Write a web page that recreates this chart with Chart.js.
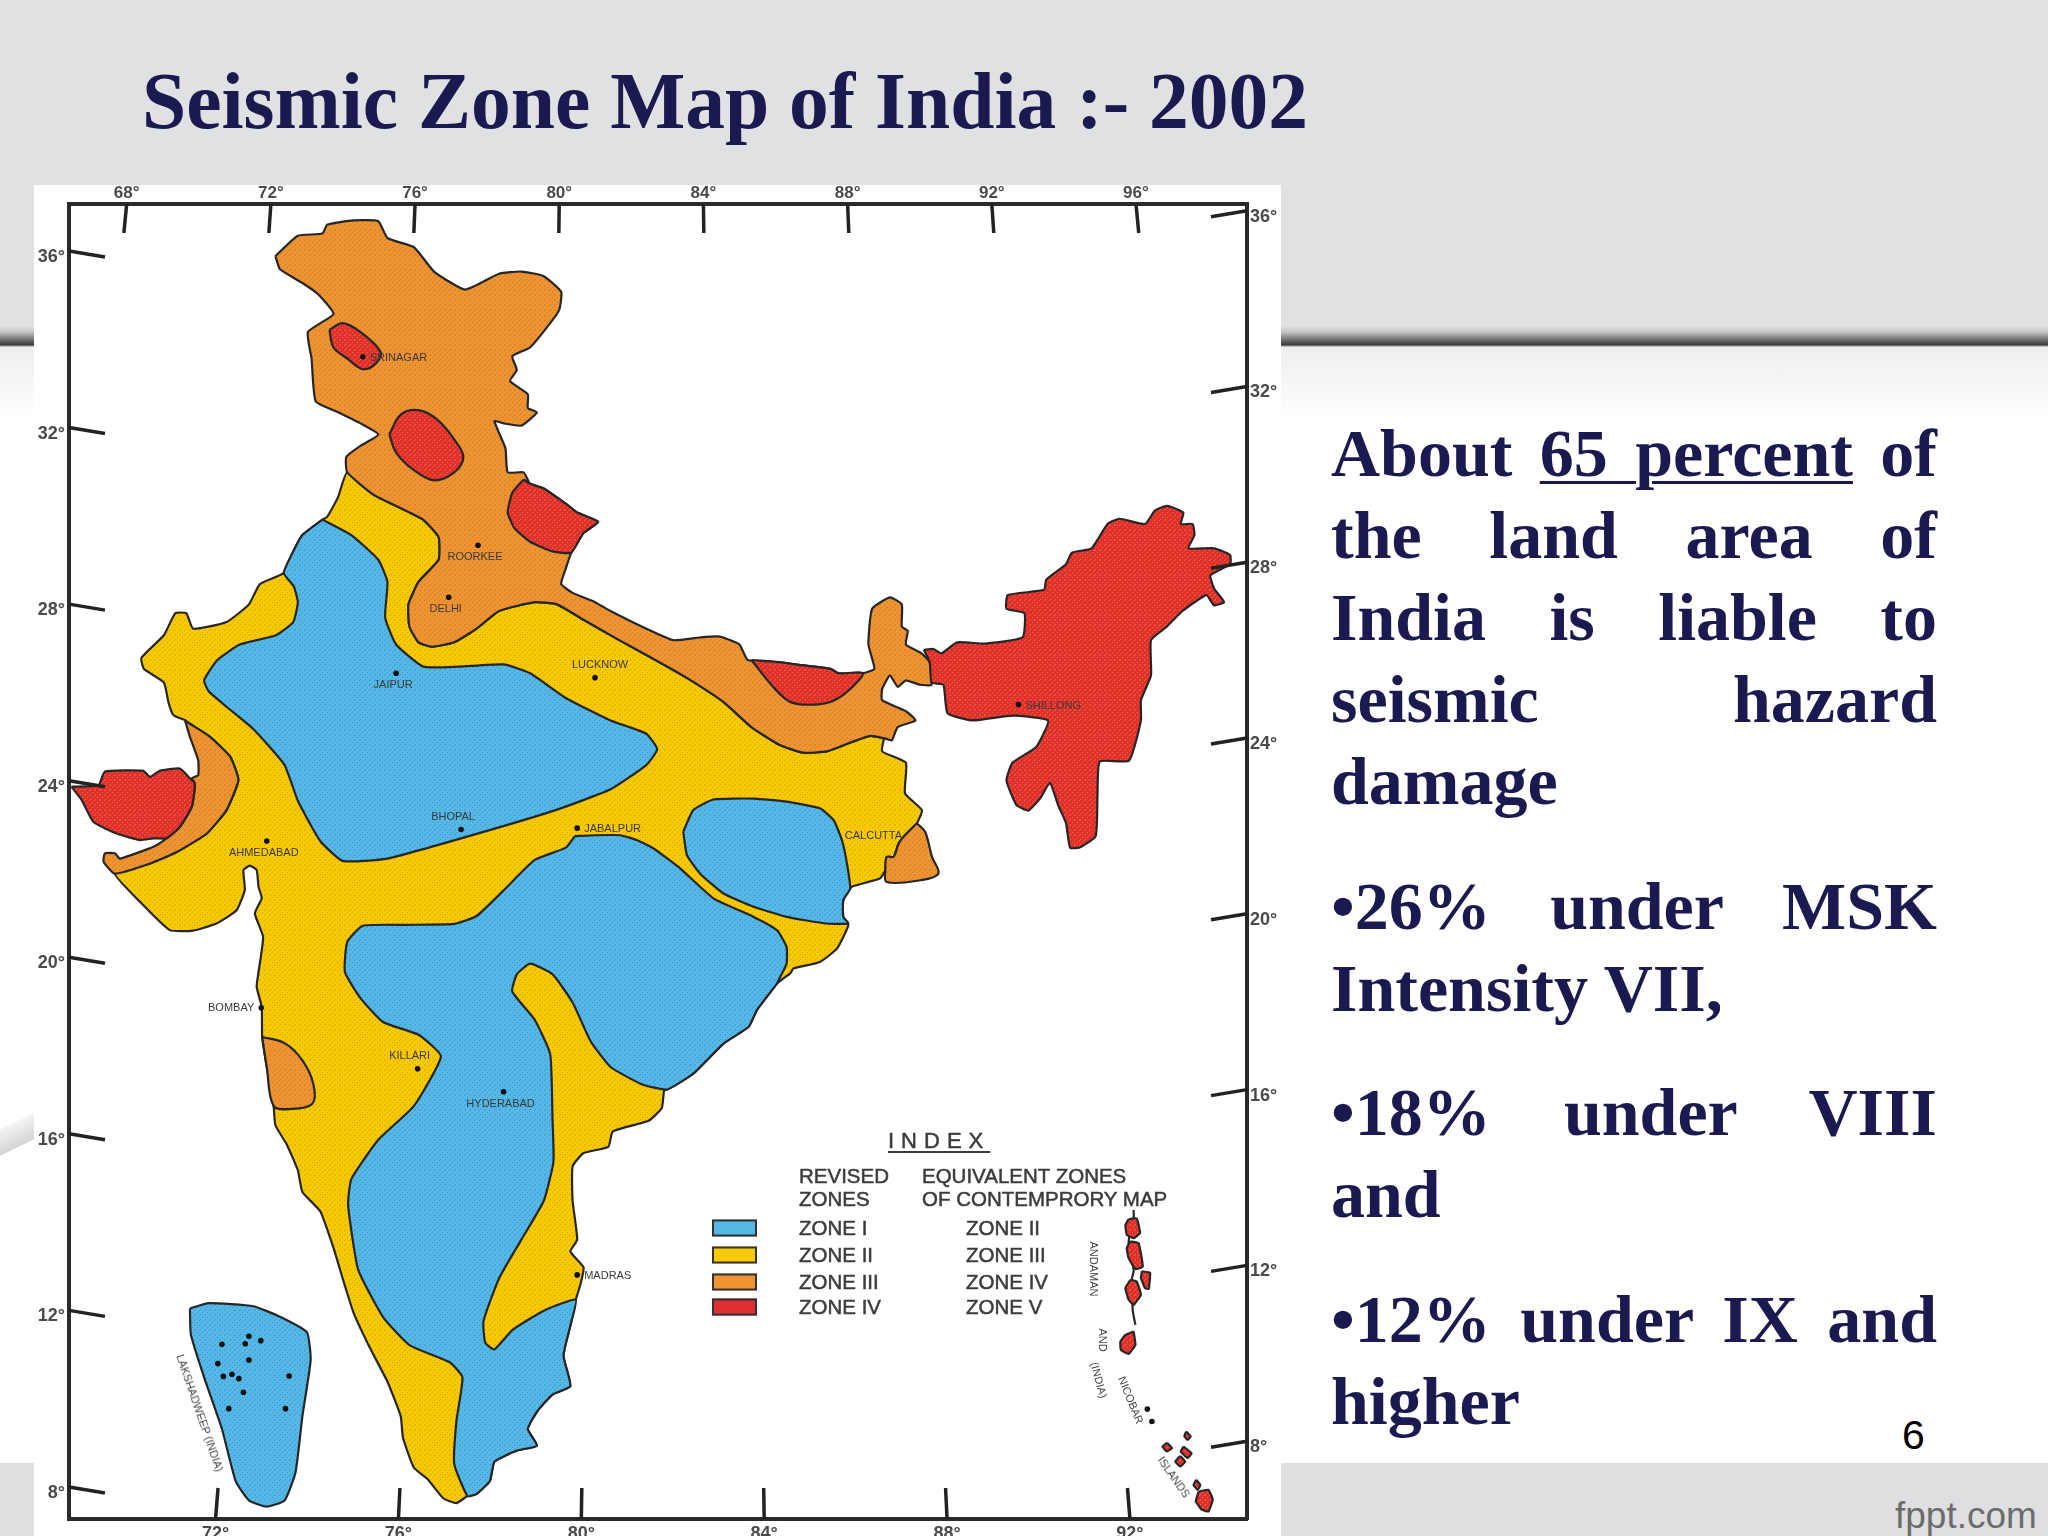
<!DOCTYPE html>
<html>
<head>
<meta charset="utf-8">
<title>Seismic Zone Map of India</title>
<script src="https://cdn.jsdelivr.net/npm/chart.js@4/dist/chart.umd.min.js"></script>
<style>
    html, body { margin: 0; padding: 0; }
    body {
        width: 2048px; height: 1536px; position: relative; overflow: hidden;
        font-family: "Liberation Sans", sans-serif;
        background: linear-gradient(to bottom, #e0e1e2 0, #e0e1e2 326px, #c4c4c4 332px, #4c4c4c 343px, #3c3c3c 345px, #eeeeee 347px, #ffffff 420px, #ffffff 100%);
    }
    .abs { position: absolute; }
    #footerBand { left: 0; top: 1463px; width: 2048px; height: 73px; background: #dfdfe2; }
    #streak { left: -4px; top: 1122px; width: 40px; height: 26px; background: linear-gradient(to bottom, #f4f4f4, #d4d4d4); transform: skewY(-26deg); }
    #panel { left: 34px; top: 185px; width: 1247px; height: 1351px; background: #fff; }
    #mapChart { position: absolute; left: 0; top: 0; filter: blur(0.6px); }
    #title {
        left: 142px; top: 56px; white-space: nowrap; color: #1a1a50;
        font: bold 79.5px "Liberation Serif", serif;
    }
    .para { position: absolute; left: 1331px; width: 606px; color: #1a1a50; font: bold 68px/82px "Liberation Serif", serif; }
    .ln { text-align: justify; text-align-last: justify; }
    .ln.last { text-align-last: left; }
    .u { text-decoration: underline; text-decoration-thickness: 3px; text-underline-offset: 5px; }
    #pageNo { left: 1902px; top: 1412px; font-size: 41px; color: #000; }
    #brand { left: 1895px; top: 1495px; font-size: 37px; color: #6c6c6c; }
    .idx { position: absolute; white-space: nowrap; color: #3c3c3c; font-size: 20.5px; line-height: 22px; transform: translateY(-50%); -webkit-text-stroke: 0.5px #3c3c3c; }
    #indexHead { font-size: 22px; letter-spacing: 7px; text-decoration: underline; text-underline-offset: 3px; }
    .swatch { position: absolute; left: 712px; width: 41px; height: 13px; border: 2px solid #333; transform: translateY(-50%); }
    .rot { position: absolute; white-space: nowrap; color: #444; font-size: 11px; transform: translate(-50%, -50%) rotate(var(--a)); }
</style>
</head>
<body>
<div class="abs" id="footerBand"></div>
<div class="abs" id="streak"></div>
<div class="abs" id="title">Seismic Zone Map of India :- 2002</div>

<div class="abs" id="panel"><canvas id="mapChart" width="1247" height="1351"></canvas></div>
<div id="indexBox"></div>

<div class="para" style="top:412px">
    <div class="ln">About <span class="u">65 percent</span> of</div>
    <div class="ln">the land area of</div>
    <div class="ln">India is liable to</div>
    <div class="ln">seismic hazard</div>
    <div class="ln last">damage</div>
</div>
<div class="para" style="top:865px">
    <div class="ln">•26% under MSK</div>
    <div class="ln last">Intensity VII,</div>
</div>
<div class="para" style="top:1071px">
    <div class="ln">•18% under VIII</div>
    <div class="ln last">and</div>
</div>
<div class="para" style="top:1278px">
    <div class="ln">•12% under IX and</div>
    <div class="ln last">higher</div>
</div>
<div class="abs" id="pageNo">6</div>
<div class="abs" id="brand">fppt.com</div>

<script>
// ============================================================
// DATA - all outlines are [lon, lat]
// ============================================================
const topLonTicks = [68, 72, 76, 80, 84, 88, 92, 96];
const bottomLonTicks = [72, 76, 80, 84, 88, 92];
const latTicks = [36, 32, 28, 24, 20, 16, 12, 8];

// Shared borders
const kashmirNorth = [[73.31,36.02],[73.80,36.48],[74.34,36.53],[74.44,36.73],[75.02,36.83],[75.56,36.81],[75.76,36.43],[76.34,36.22],[76.78,35.67],[77.46,35.26],[78.20,35.62],[78.69,35.67],[79.17,35.57],[79.56,35.21],[79.52,34.81],[79.32,34.50],[78.88,33.95],[78.49,33.75],[78.59,33.44],[78.44,33.19],[78.83,32.89],[78.83,32.58],[79.03,32.48],[78.69,32.18],[78.30,32.23],[78.10,32.28],[78.34,31.67],[78.39,31.12],[78.74,31.12],[78.88,30.86],[79.17,30.76],[79.66,30.41],[79.91,30.21],[80.37,30.00],[80.05,29.75],[79.78,29.30],[79.66,28.94],[79.56,28.59],[79.81,28.39],[80.30,28.18],[80.64,27.98],[81.32,27.63],[82.01,27.32],[82.59,27.38],[83.03,27.40],[83.46,27.22],[83.64,26.87],[84.33,26.82],[84.68,26.77],[85.45,26.67],[85.63,26.57],[86.15,26.57],[86.41,26.67],[86.28,27.22],[86.36,28.03],[86.75,28.29],[87.01,28.13],[87.01,27.63],[87.14,27.53],[87.10,27.22],[87.44,27.02],[87.62,26.82],[87.66,26.31],[87.40,26.31],[87.10,26.41],[86.92,26.26],[86.75,26.52],[86.58,26.21],[86.58,25.96],[87.10,25.71],[87.31,25.50],[86.92,25.35],[86.79,25.05]];
const zone3SouthEdge = [[86.62,25.10],[86.32,25.15],[85.89,25.00],[85.37,24.80],[84.85,24.77],[84.33,24.95],[83.72,25.35],[83.12,25.91],[82.30,26.47],[81.62,26.87],[80.83,27.32],[80.05,27.78],[79.47,28.13],[78.98,28.18],[78.20,27.98],[77.71,27.58],[77.22,27.27],[76.73,27.17],[76.44,27.27],[76.24,27.63],[76.22,28.13],[76.44,28.64],[76.88,29.14],[76.88,29.65],[76.54,30.05],[76.05,30.31],[75.46,30.61],[74.88,31.12]];
const kashmirWest = [[74.86,31.47],[75.17,31.72],[75.56,31.98],[75.17,32.23],[74.68,32.48],[74.19,32.73],[74.10,33.70],[74.02,34.30],[74.58,34.71],[74.24,35.16],[73.90,35.41],[73.41,35.72]];
const rajCoastUpper = [[74.68,30.56],[74.44,30.11],[74.34,30.05],[73.90,29.70],[73.71,29.35],[73.49,28.84]];
const rajCoastLower = [[72.97,28.59],[72.73,28.13],[72.24,27.73],[71.51,27.58],[71.36,27.93],[71.12,27.93],[70.87,27.43],[70.38,26.92],[70.43,26.67],[70.87,26.36],[70.97,25.91],[71.08,25.62],[71.33,25.51]];
const kutchInnerEdge = [[71.37,25.47],[71.88,25.13],[72.32,24.68],[72.50,24.15],[72.24,23.47],[71.81,22.94],[71.15,22.52],[70.57,22.26],[69.80,22.03]];
const gujaratCoast = [[70.35,21.39],[71.00,20.75],[71.51,20.74],[72.02,20.90],[72.46,21.20],[72.64,21.66],[72.61,22.11],[72.75,22.21],[72.90,22.11],[72.94,21.73],[73.01,21.47],[72.86,21.13],[73.04,20.60],[72.97,20.00],[72.90,19.47],[73.01,19.01]];
const westCoast = [[73.02,18.33],[73.12,17.65],[73.27,16.77],[73.31,16.33],[73.56,15.89],[73.80,15.31],[73.90,14.82],[74.29,14.38],[74.58,13.55],[74.78,12.86],[75.02,12.08],[75.37,11.30],[75.76,10.52],[76.05,9.74],[76.10,9.25],[76.34,8.57],[76.63,8.32],[76.98,7.88],[77.27,7.77],[77.51,7.93]];
const tamilCoast = [[77.71,7.98],[78.00,8.27],[78.10,8.71],[78.59,8.96],[79.03,9.07],[78.83,9.45],[79.03,9.84],[79.37,10.23],[79.76,10.42],[79.61,11.11],[79.76,11.79],[79.88,12.38]];
const andhraCoast = [[79.98,12.72],[80.05,13.11],[79.76,13.47],[79.91,13.74],[79.81,14.62],[79.81,15.40],[80.05,15.70],[80.59,15.84],[80.69,16.19],[81.47,16.43],[81.76,16.72],[81.81,17.11]];
const circarCoast = [[81.87,17.14],[82.45,17.50],[83.11,18.18],[83.66,18.56],[83.84,18.94],[84.28,19.54]];
const odishaCoast = [[84.57,19.77],[84.64,19.88],[85.22,20.03],[85.59,20.33],[85.84,20.86]];
const chotaCoast = [[85.73,21.05],[85.73,21.43],[85.88,21.69]];
const bengalCoast = [[85.95,21.75],[86.53,21.92],[86.65,22.11]];
const bengalEdge = [[86.68,22.41],[86.83,22.41],[86.94,22.71],[87.08,22.90],[87.34,23.17]];
const gangesEdge = [[87.45,23.47],[87.08,23.85],[87.10,24.54],[86.58,24.80]];

// Zone II
const zone2Main = [...zone3SouthEdge, ...rajCoastUpper, ...rajCoastLower, ...kutchInnerEdge, ...gujaratCoast, ...westCoast, ...tamilCoast, ...andhraCoast, ...circarCoast, ...odishaCoast, ...chotaCoast, ...bengalCoast, ...bengalEdge, ...gangesEdge];

// Zone III
const zone3North = [...kashmirNorth, ...zone3SouthEdge, ...kashmirWest];
const zone3Kutch = [[71.33,25.51],[71.44,25.13],[71.62,24.60],[71.62,24.26],[71.48,24.19],[71.55,24.07],[71.48,23.54],[71.22,23.09],[70.93,22.83],[70.64,22.64],[69.91,22.37],[69.80,22.49],[69.58,22.49],[69.55,22.30],...kutchInnerEdge.slice().reverse()];
const zone3Bengal = [[87.34,23.17],[87.52,22.98],[87.67,22.41],[87.81,22.03],[87.41,21.88],[86.68,21.84],[86.65,22.11],[86.68,22.41],[86.83,22.41],[86.94,22.71],[87.08,22.90]];
const zone3Konkan = [[73.02,18.33],[73.51,18.19],[73.90,17.80],[74.14,17.26],[74.12,16.82],[73.66,16.70],[73.27,16.77],[73.12,17.65]];

// Zone I
const zone1Rajasthan = [[74.34,30.05],[74.97,29.70],[75.56,29.14],[75.76,28.64],[75.71,27.83],[75.95,27.22],[76.54,26.72],[77.32,26.72],[78.30,26.77],[78.88,26.57],[79.66,26.01],[80.64,25.50],[81.42,25.20],[81.66,24.85],[81.42,24.49],[80.64,23.94],[79.47,23.48],[77.71,22.93],[75.76,22.37],[74.78,22.32],[74.29,22.77],[73.80,23.68],[73.51,24.49],[72.83,25.30],[72.24,25.81],[71.85,26.16],[71.75,26.41],[72.04,26.87],[72.53,27.22],[73.32,27.43],[73.70,27.73],[73.80,28.18],[73.71,28.54],[73.49,28.84],[73.71,29.35],[73.90,29.70]];
const zone1Chota = [[82.23,22.98],[82.45,23.47],[82.89,23.71],[83.77,23.73],[84.49,23.66],[85.22,23.51],[85.52,23.24],[85.70,22.79],[85.81,22.26],[85.88,21.69],[85.73,21.43],[85.73,21.05],[85.84,20.90],[85.37,20.90],[84.49,21.05],[83.77,21.28],[83.11,21.58],[82.60,22.03],[82.31,22.45]];
const zone1Deccan = [[79.86,22.88],[80.30,22.90],[80.85,22.90],[81.21,22.79],[81.58,22.60],[82.16,22.15],[82.89,21.47],[83.77,21.05],[84.28,20.75],[84.49,20.37],[84.49,19.99],[84.35,19.69],[84.28,19.54],[83.84,18.94],[83.66,18.56],[83.11,18.18],[82.45,17.50],[81.87,17.14],[81.32,17.26],[80.64,17.65],[80.20,18.24],[79.81,19.11],[79.37,19.75],[78.88,19.99],[78.59,19.75],[78.49,19.36],[78.98,18.72],[79.32,17.94],[79.37,16.48],[79.39,15.50],[79.18,14.62],[78.69,13.74],[78.20,12.86],[77.86,11.89],[77.90,11.40],[78.10,11.25],[78.49,11.69],[79.18,12.13],[79.88,12.38],[79.76,11.79],[79.61,11.11],[79.76,10.42],[79.37,10.23],[79.03,9.84],[78.83,9.45],[79.03,9.07],[78.59,8.96],[78.10,8.71],[78.00,8.27],[77.71,7.98],[77.51,7.93],[77.22,8.66],[77.27,9.64],[77.40,10.62],[77.12,10.96],[76.24,11.35],[75.66,11.99],[75.12,13.06],[74.90,14.52],[74.97,15.11],[75.56,16.00],[76.34,16.77],[76.93,17.89],[76.44,18.38],[75.66,18.67],[75.17,19.21],[74.83,19.80],[74.88,20.48],[75.22,20.85],[76.15,20.87],[77.22,20.89],[77.71,21.07],[78.30,21.65],[78.98,22.34],[79.66,22.62]];
const zone1Lakshadweep = [[71.44,12.18],[71.85,12.30],[72.83,12.23],[73.41,11.99],[74.00,11.64],[74.08,11.01],[73.90,9.74],[73.75,8.47],[73.51,7.83],[73.12,7.69],[72.73,7.83],[72.44,8.27],[72.14,9.45],[71.75,10.62],[71.46,11.59]];

// Zone IV
const zone4Srinagar = [[74.49,34.35],[74.78,34.50],[75.17,34.30],[75.61,33.85],[75.51,33.59],[75.22,33.46],[74.88,33.70],[74.58,33.95]];
const zone4Himachal = [[75.80,31.98],[76.05,32.43],[76.44,32.53],[76.83,32.33],[77.22,31.87],[77.42,31.47],[77.22,31.12],[76.78,30.94],[76.34,31.17],[75.95,31.57]];
const zone4Garhwal = [[78.74,30.96],[78.88,30.86],[79.17,30.76],[79.66,30.41],[79.91,30.21],[80.37,30.00],[80.05,29.75],[79.78,29.30],[79.37,29.33],[78.88,29.55],[78.54,29.85],[78.39,30.21],[78.49,30.66]];
const zone4Bihar = [[83.72,26.87],[84.33,26.82],[84.68,26.77],[85.45,26.67],[85.63,26.57],[86.15,26.57],[85.93,26.26],[85.54,25.96],[85.11,25.86],[84.59,25.91],[84.24,26.21]];
const zone4Kutch = [[68.85,24.00],[69.44,24.03],[69.58,24.34],[70.42,24.36],[70.57,24.22],[70.78,24.36],[71.22,24.41],[71.44,24.19],[71.55,24.07],[71.48,23.54],[71.22,23.09],[70.93,22.83],[70.64,22.83],[70.35,22.79],[69.84,22.94],[69.33,23.20],[69.07,23.70]];
const zone4NorthEast = [[87.49,27.10],[87.70,27.12],[87.88,27.02],[88.22,27.27],[88.83,27.24],[89.65,27.38],[89.69,27.93],[89.30,28.03],[89.33,28.34],[90.12,28.46],[90.17,28.69],[90.60,29.04],[90.73,29.30],[91.16,29.40],[91.51,29.95],[91.77,30.07],[92.33,29.95],[92.55,30.26],[92.81,30.36],[93.17,30.21],[93.11,29.95],[93.37,29.95],[93.41,29.70],[93.28,29.40],[93.84,29.40],[94.19,29.25],[94.19,29.04],[93.76,28.79],[93.84,28.49],[94.06,28.18],[93.84,28.11],[93.67,28.34],[93.15,27.98],[92.81,27.63],[92.46,27.32],[92.46,26.52],[92.24,25.96],[92.24,25.50],[91.98,24.59],[91.34,24.57],[91.29,23.79],[91.25,22.88],[90.90,22.62],[90.69,22.62],[90.60,23.18],[90.43,23.58],[90.25,24.09],[90.04,23.74],[89.78,23.46],[89.52,23.58],[89.30,24.14],[89.43,24.54],[89.95,24.90],[90.21,25.50],[89.43,25.61],[88.57,25.50],[88.01,25.66],[87.92,26.31],[87.66,26.36],[87.62,26.82]];

// Andaman and Nicobar
const andamanSpine = [[92.08,14.41],[92.08,14.22],[91.97,13.66],[92.08,13.05],[92.04,12.83],[92.06,12.15],[92.12,11.81]];
const andamanNorth = [[91.97,14.20],[92.15,14.22],[92.22,13.89],[92.08,13.77],[91.93,13.85],[91.90,14.07]];
const andamanMiddle = [[92.01,13.70],[92.19,13.66],[92.28,13.13],[92.12,13.07],[91.97,13.32],[91.93,13.55]];
const andamanSouth = [[92.01,12.83],[92.15,12.79],[92.24,12.49],[92.08,12.26],[91.97,12.38],[91.90,12.64]];
const andamanEast = [[92.26,13.02],[92.44,12.99],[92.41,12.62],[92.33,12.64],[92.24,12.87]];
const littleAndaman = [[92.08,11.66],[92.12,11.36],[91.97,11.15],[91.80,11.24],[91.79,11.43],[91.90,11.58]];
const nicobarA = [[92.81,9.14],[92.92,9.02],[92.81,8.94],[92.71,9.05]];
const nicobarB = [[93.17,9.05],[93.35,8.90],[93.26,8.79],[93.11,8.94]];
const nicobarC = [[93.10,8.84],[93.21,8.71],[93.10,8.60],[92.99,8.71]];
const nicobarD = [[93.23,9.39],[93.33,9.28],[93.26,9.20],[93.19,9.29]];
const nicobarE = [[93.45,8.30],[93.54,8.18],[93.48,8.07],[93.39,8.18]];
const greatNicobar = [[93.50,8.03],[93.72,8.07],[93.81,7.85],[93.72,7.58],[93.57,7.62],[93.44,7.81]];

// Dots and place names
const islandDots = [[72.14,11.37],[72.73,11.55],[72.99,11.45],[72.65,11.38],[72.05,10.93],[72.73,11.01],[72.17,10.64],[72.36,10.69],[72.51,10.59],[73.61,10.65],[72.61,10.28],[72.29,9.91],[73.53,9.91],[92.38,9.90],[92.48,9.62]];
const cityNames = ['SRINAGAR', 'ROORKEE', 'DELHI', 'LUCKNOW', 'JAIPUR', 'BHOPAL', 'JABALPUR', 'AHMEDABAD', 'BOMBAY', 'KILLARI', 'HYDERABAD', 'MADRAS', 'SHILLONG'];
const cityLon = [75.22, 77.74, 77.10, 80.30, 75.95, 77.37, 79.91, 73.12, 73.00, 76.42, 78.30, 79.91, 89.56];
const cityLat = [33.74, 29.47, 28.29, 26.47, 26.57, 23.03, 23.06, 22.77, 18.99, 17.61, 17.09, 12.94, 25.86];
const cityPlace = ['r', 'b', 'b', 't', 'b', 'tl', 'r', 'b', 'l', 'tl', 'b', 'r', 'r'];
const extraLabel = 'CALCUTTA';
const extraLabelAt = [86.39, 22.88];

const zoneNames = ['ZONE I', 'ZONE II', 'ZONE III', 'ZONE IV'];
const equivalentNames = ['ZONE II', 'ZONE III', 'ZONE IV', 'ZONE V'];
const zoneColors = ['#56b8e4', '#f8ca04', '#ee9433', '#df2f2f'];
const zoneDots = ['#3b93cf', '#d8a400', '#cf7a20', '#f0702c'];

// ============================================================
// FILL PATTERNS
// ============================================================
function makePattern(base, dot) {
    const tile = document.createElement('canvas');
    tile.width = 5;
    tile.height = 5;
    const t = tile.getContext('2d');
    t.fillStyle = base;
    t.fillRect(0, 0, 5, 5);
    t.fillStyle = dot;
    t.fillRect(0, 0, 1, 1);
    t.fillRect(3, 2, 1, 1);
    t.fillRect(1, 4, 1, 1);
    return tile;
}

// ============================================================
// DATASETS
// ============================================================
const layers = [
    [zone2Main, 1], [zone3North, 2], [zone3Kutch, 2], [zone3Bengal, 2], [zone3Konkan, 2],
    [zone1Rajasthan, 0], [zone1Chota, 0], [zone1Deccan, 0], [zone1Lakshadweep, 0],
    [zone4Srinagar, 3], [zone4Himachal, 3], [zone4Garhwal, 3], [zone4Bihar, 3], [zone4Kutch, 3], [zone4NorthEast, 3],
    [andamanSpine, null],
    [andamanNorth, 3], [andamanMiddle, 3], [andamanSouth, 3], [andamanEast, 3], [littleAndaman, 3],
    [nicobarA, 3], [nicobarB, 3], [nicobarC, 3], [nicobarD, 3], [nicobarE, 3], [greatNicobar, 3]
];

function ringTension(ring) {
    if (ring.length > 12) return 0.15;
    return ring.length > 6 ? 0.35 : 0.1;
}

const datasets = layers.map(([ring, zone], i) => ({
    type: 'scatter',
    showLine: true,
    zone: zone,
    order: layers.length - i + 1,
    data: (zone === null ? ring : [...ring, ring[0]]).map(p => ({ x: p[0], y: p[1] })),
    borderColor: '#262626',
    borderWidth: 2.2,
    tension: ringTension(ring),
    pointRadius: 0,
    clip: false
}));

datasets.push({
    type: 'scatter',
    order: 0,
    data: islandDots.map(p => ({ x: p[0], y: p[1] })).concat(cityLon.map((lon, i) => ({ x: lon, y: cityLat[i] }))),
    backgroundColor: '#111',
    borderWidth: 0,
    pointRadius: 2.8
});

// ============================================================
// PLUGINS
// ============================================================
const zoneFill = {
    id: 'zoneFill',
    beforeDatasetDraw(chart, args) {
        const ds = chart.data.datasets[args.index];
        if (ds.zone === undefined || ds.zone === null) return;
        const ctx = chart.ctx;
        ctx.save();
        ctx.beginPath();
        args.meta.dataset.path(ctx);
        ctx.closePath();
        ctx.fillStyle = ctx.createPattern(makePattern(zoneColors[ds.zone], zoneDots[ds.zone]), 'repeat');
        ctx.fill();
        ctx.restore();
    }
};

// Ticks lean a little on the conic grid, so they are drawn here from the scales
const slantTicks = {
    id: 'slantTicks',
    afterDatasetsDraw(chart) {
        const { ctx, chartArea: a, scales } = chart;
        ctx.save();
        ctx.strokeStyle = '#222';
        ctx.lineWidth = 3.5;
        const seg = (x1, y1, x2, y2) => {
            ctx.beginPath();
            ctx.moveTo(x1, y1);
            ctx.lineTo(x2, y2);
            ctx.stroke();
        };
        topLonTicks.forEach(v => {
            const x = scales.xTop.getPixelForValue(v);
            seg(x, a.top, x + (v - 82) * 0.2, a.top + 29);
        });
        bottomLonTicks.forEach(v => {
            const x = scales.x.getPixelForValue(v);
            seg(x, a.bottom, x - (v - 82) * 0.25, a.bottom - 31);
        });
        latTicks.forEach(v => {
            const yl = scales.y.getPixelForValue(v);
            seg(a.left, yl - 6, a.left + 36, yl);
            const yr = scales.yRight.getPixelForValue(v);
            seg(a.right, yr - 6, a.right - 36, yr);
        });

        // Place names
        ctx.fillStyle = '#3a3a3a';
        ctx.font = '11px "Liberation Sans", sans-serif';
        cityNames.forEach((name, i) => {
            const x = scales.x.getPixelForValue(cityLon[i]);
            const y = scales.y.getPixelForValue(cityLat[i]);
            const w = ctx.measureText(name).width;
            const p = cityPlace[i];
            ctx.textBaseline = 'middle';
            if (p === 'r') ctx.fillText(name, x + 7, y + 1);
            else if (p === 'l') ctx.fillText(name, x - w - 7, y);
            else if (p === 'b') ctx.fillText(name, x - w / 2 - 3, y + 12);
            else if (p === 't') ctx.fillText(name, x - w / 2 + 5, y - 13);
            else ctx.fillText(name, x - w / 2 - 8, y - 13);
        });
        const cx = scales.x.getPixelForValue(extraLabelAt[0]);
        const cy = scales.y.getPixelForValue(extraLabelAt[1]);
        ctx.fillText(extraLabel, cx - ctx.measureText(extraLabel).width / 2, cy);
        ctx.restore();
    }
};

// ============================================================
// AXES
// ============================================================
function frameAxis(position, axis, min, max, ticks, size, padding, fontSize) {
    const horizontal = axis === 'x';
    return {
        type: 'linear',
        axis: axis,
        position: position,
        min: min,
        max: max,
        afterBuildTicks: s => { s.ticks = ticks.map(v => ({ value: v })); },
        afterFit: s => { if (horizontal) s.height = size; else s.width = size; },
        grid: { drawOnChartArea: false, drawTicks: false },
        border: { display: true, color: '#2a2a2a', width: 4 },
        ticks: {
            autoSkip: false,
            maxRotation: 0,
            padding: padding,
            color: '#4a4a4a',
            font: { family: '"Liberation Sans", sans-serif', size: fontSize, weight: 'bold' },
            callback: v => v + '°'
        }
    };
}

new Chart(document.getElementById('mapChart'), {
    type: 'scatter',
    data: { datasets: datasets },
    options: {
        responsive: false,
        devicePixelRatio: 1,
        animation: false,
        events: [],
        layout: { padding: 0 },
        plugins: { legend: { display: false }, tooltip: { enabled: false } },
        scales: {
            x: frameAxis('bottom', 'x', 68.795, 94.56, bottomLonTicks, 17, 4, 18),
            xTop: frameAxis('top', 'x', 66.40, 99.08, topLonTicks, 19, 0, 17),
            y: frameAxis('left', 'y', 7.41, 37.20, latTicks, 35, 4, 18),
            yRight: frameAxis('right', 'y', 6.365, 36.29, latTicks, 34, 3, 18)
        }
    },
    plugins: [zoneFill, slantTicks]
});

// ============================================================
// INDEX BOX AND ROTATED MAP LABELS
// ============================================================
const indexBox = document.getElementById('indexBox');

function addIndexText(text, left, top, id) {
    const el = document.createElement('div');
    el.className = 'idx';
    el.textContent = text;
    el.style.left = left + 'px';
    el.style.top = top + 'px';
    if (id) el.id = id;
    indexBox.appendChild(el);
}

addIndexText('INDEX', 888, 1141, 'indexHead');
addIndexText('REVISED', 799, 1176);
addIndexText('ZONES', 799, 1199);
addIndexText('EQUIVALENT ZONES', 922, 1176);
addIndexText('OF CONTEMPRORY MAP', 922, 1199);

const rowTops = [1228, 1255, 1282, 1307];
zoneNames.forEach((name, i) => {
    addIndexText(name, 799, rowTops[i]);
    addIndexText(equivalentNames[i], 966, rowTops[i]);
    const sw = document.createElement('div');
    sw.className = 'swatch';
    sw.style.top = rowTops[i] + 'px';
    sw.style.background = zoneColors[i];
    indexBox.appendChild(sw);
});

const rotLabels = [
    ['ANDAMAN', 1094, 1269, 90],
    ['AND', 1103, 1340, 90],
    ['(INDIA)', 1099, 1380, 75],
    ['NICOBAR', 1131, 1400, 68],
    ['ISLANDS', 1174, 1477, 55],
    ['LAKSHADWEEP (INDIA)', 200, 1413, 71]
];
rotLabels.forEach(([text, x, y, deg]) => {
    const el = document.createElement('div');
    el.className = 'rot';
    el.textContent = text;
    el.style.left = x + 'px';
    el.style.top = y + 'px';
    el.style.setProperty('--a', deg + 'deg');
    indexBox.appendChild(el);
});
</script>
</body>
</html>
